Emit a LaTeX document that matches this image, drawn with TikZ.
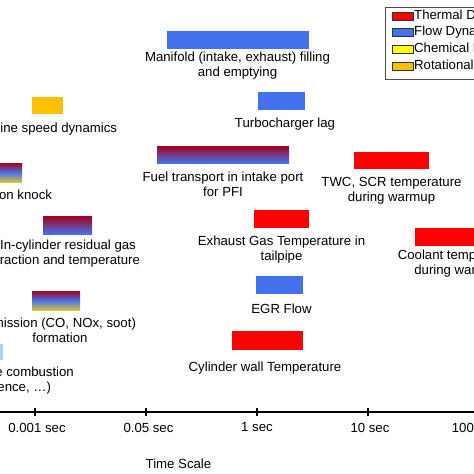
\documentclass[tikz,border=0pt]{standalone}
\usepackage{fontspec}
\setmainfont{Liberation Sans}
\definecolor{thermred}{RGB}{255,0,0}
\definecolor{flowblue}{RGB}{68,114,236}
\definecolor{chemyel}{RGB}{255,255,0}
\definecolor{rotorange}{RGB}{255,192,0}
\definecolor{darkred}{RGB}{165,0,30}
\definecolor{mixyel}{RGB}{215,195,50}
\definecolor{lightblue}{RGB}{180,205,240}
\begin{document}
\begin{tikzpicture}[x=1pt,y=-1pt,
  lbl/.style={font=\fontsize{13.2}{15}\selectfont, align=center, inner sep=0pt, text=black},
  bar/.style={draw=none, inner sep=0pt, minimum height=18pt},
  swatch/.style={draw=black!80, line width=0.8pt, inner sep=0pt, minimum width=21pt, minimum height=8pt},
  ticklbl/.style={font=\fontsize{13.2}{15}\selectfont, inner sep=0pt},
  axisline/.style={line width=2pt, black},
  tickmark/.style={line width=1.5pt, black}]
\useasboundingbox (0,0) rectangle (474,474);
\clip (0,0) rectangle (474,474);

% bars
\node[bar, fill=flowblue, minimum width=142pt] (manifold) at (238,40) {};
\node[bar, fill=flowblue, minimum width=47pt] (turbo) at (281.5,101) {};
\node[bar, minimum width=132pt, minimum height=17pt, top color=darkred, bottom color=flowblue] (fuel) at (223,154.5) {};
\node[bar, fill=thermred, minimum width=75pt, minimum height=17pt] (twc) at (391.5,160.5) {};
\node[bar, fill=thermred, minimum width=55pt] (exhaust) at (281.5,219) {};
\node[bar, fill=thermred, minimum width=86pt] (coolant) at (458,237) {};
\node[bar, fill=flowblue, minimum width=47pt] (egr) at (279.5,285) {};
\node[bar, fill=thermred, minimum width=71pt, minimum height=19pt] (cylinder) at (267.5,340.5) {};
\node[bar, fill=rotorange, minimum width=31pt, minimum height=17pt] (speed) at (47.5,105.5) {};
\node[bar, minimum width=43pt, minimum height=19pt, top color=darkred, bottom color=mixyel, middle color=flowblue] (knock) at (0.5,172.5) {};
\node[bar, minimum width=49pt, top color=darkred, bottom color=flowblue] (residual) at (67.5,225) {};
\node[bar, minimum width=48pt, minimum height=19pt, top color=darkred, bottom color=mixyel, middle color=flowblue] (emission) at (56,300.5) {};
\node[bar, fill=lightblue, minimum width=23pt, minimum height=16pt] (combustion) at (-8.5,352) {};

% labels
\node[lbl] (manifoldlbl) at (237.5,65.5) {Manifold (intake, exhaust) filling\\and emptying};
\node[lbl] (turbolbl) at (285,124) {Turbocharger lag};
\node[lbl] (fuellbl) at (223,184.5) {Fuel transport in intake port\\for PFI};
\node[lbl] (twclbl) at (391.5,191) {TWC, SCR temperature\\during warmup};
\node[lbl] (exhaustlbl) at (281.5,250) {Exhaust Gas Temperature in\\tailpipe};
\node[lbl] (coolantlbl) at (458,264) {Coolant temperature\\during warmup};
\node[lbl] (egrlbl) at (281.5,309) {EGR Flow};
\node[lbl] (cylinderlbl) at (265,368) {Cylinder wall Temperature};
\node[lbl] (speedlbl) at (47,129) {Engine speed dynamics};
\node[lbl] (knocklbl) at (1,195) {Detonation knock};
\node[lbl] (residuallbl) at (68,253.5) {In-cylinder residual gas\\fraction and temperature};
\node[lbl] (emissionlbl) at (60,330.5) {Emission (CO, NOx, soot)\\formation};
\node[lbl] (combustionlbl) at (5.5,380.5) {Turbulence combustion\\(turbulence, …)};

% legend
\node[draw=black!70, line width=0.7pt, inner sep=0pt, minimum width=100pt, minimum height=72pt, anchor=north west] (legend) at (385,7) {};
\node[swatch, fill=thermred] (sw1) at (402.5,16) {};
\node[swatch, fill=flowblue] (sw2) at (402.5,32) {};
\node[swatch, fill=chemyel] (sw3) at (402.5,49) {};
\node[swatch, fill=rotorange] (sw4) at (402.5,66) {};
\node[lbl, anchor=west] (lg1) at (414,16) {Thermal Dynamics};
\node[lbl, anchor=west] (lg2) at (414,32) {Flow Dynamics};
\node[lbl, anchor=west] (lg3) at (414,49) {Chemical Dynamics};
\node[lbl, anchor=west] (lg4) at (414,66) {Rotational Dynamics};

% axis
\coordinate (axl) at (0,412);
\coordinate (axr) at (474,412);
\draw[axisline] (axl) -- (axr);
\foreach \x/\n in {35/t1,146/t2,257/t3,368/t4,479.5/t5}{
  \coordinate (\n top) at (\x,408);
  \coordinate (\n bot) at (\x,416);
  \draw[tickmark] (\n top) -- (\n bot);
}
\node[ticklbl] (l1) at (37,427.5) {0.001 sec};
\node[ticklbl] (l2) at (148.5,427.5) {0.05 sec};
\node[ticklbl] (l3) at (257,427.5) {1 sec};
\node[ticklbl] (l4) at (370,427.5) {10 sec};
\node[ticklbl] (l5) at (475,427.5) {100 sec};
\node[ticklbl] (timescale) at (178.5,464) {Time Scale};
\end{tikzpicture}
\end{document}
